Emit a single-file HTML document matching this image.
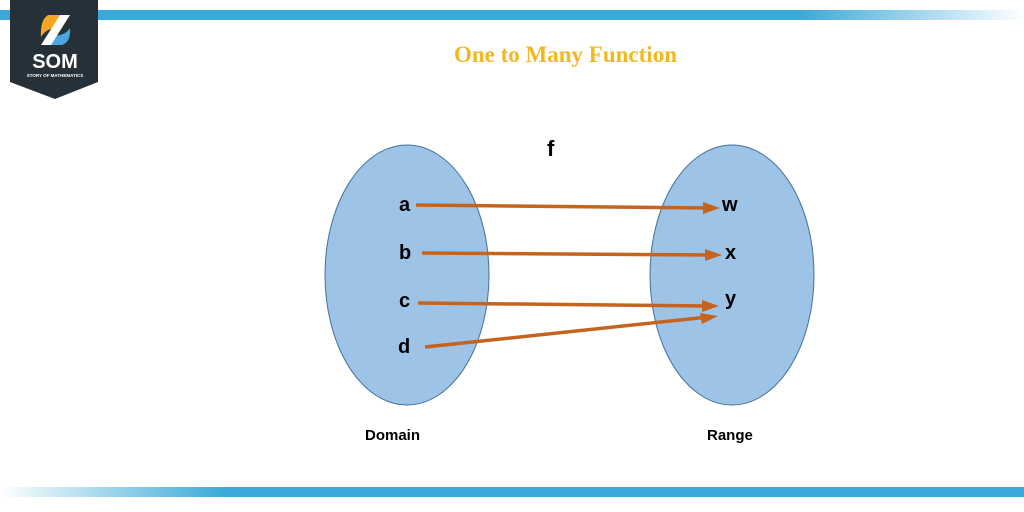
<!DOCTYPE html>
<html><head><style>
body{margin:0;width:1024px;height:512px;background:#fff;position:relative;overflow:hidden;font-family:"Liberation Sans",sans-serif}
.t{position:absolute;font-weight:bold}
</style></head><body>
<svg width="1024" height="512" style="position:absolute;left:0;top:0">
<defs>
<linearGradient id="g1" x1="0" x2="1"><stop offset="0.78" stop-color="#3aa8d8"/><stop offset="1" stop-color="#3aa8d8" stop-opacity="0"/></linearGradient>
<linearGradient id="g2" x1="0" x2="1"><stop offset="0" stop-color="#3aa8d8" stop-opacity="0"/><stop offset="0.22" stop-color="#3aa8d8"/></linearGradient>
</defs>
<rect x="0" y="10" width="1024" height="10" fill="url(#g1)"/>
<rect x="0" y="487" width="1024" height="10" fill="url(#g2)"/>
<path d="M10,0 H98 V82 L55,99 L10,82 Z" fill="#253039"/>
<path d="M48,15 H68 L60,27 Q46,28 41,37 Q40,20 48,15 Z" fill="#f5a623"/>
<path d="M70,28 Q71,42 62,45 H46 L54,36 Q66,35 70,28 Z" fill="#4aa8df"/>
<path d="M60,15 H70 L51,45 H41 Z" fill="#fff"/>
<text x="55" y="68" text-anchor="middle" fill="#fff" font-family="Liberation Sans" font-weight="bold" font-size="20">SOM</text>
<text x="55" y="77" text-anchor="middle" fill="#fff" font-family="Liberation Sans" font-weight="bold" font-size="4.5">STORY OF MATHEMATICS</text>
<ellipse cx="407" cy="275" rx="82" ry="130" fill="#9dc3e6" stroke="#41719c" stroke-width="1"/>
<ellipse cx="732" cy="275" rx="82" ry="130" fill="#9dc3e6" stroke="#41719c" stroke-width="1"/>
<g stroke="#c5641e" stroke-width="3.5" fill="none">
<line x1="416" y1="205" x2="710" y2="208"/>
<line x1="422" y1="253" x2="712" y2="255"/>
<line x1="418" y1="303" x2="709" y2="306"/>
<line x1="425" y1="347" x2="708" y2="317"/>
</g>
<g fill="#c5641e">
<path d="M720,208 L703,202 L703,214Z"/>
<path d="M722,255 L705,249 L705,261Z"/>
<path d="M719,306 L702,300 L702,312Z"/>
<path d="M718,316 L700,313 L702,324Z"/>
</g>
</svg>
<div class="t" style="left:0;width:1131px;top:42px;text-align:center;font-family:'Liberation Serif',serif;font-size:23px;color:#f2b823">One to Many Function</div>
<div class="t" style="left:547px;top:136px;font-size:22px">f</div>
<div class="t" style="left:399px;top:194px;font-size:20px">a</div>
<div class="t" style="left:399px;top:242px;font-size:20px">b</div>
<div class="t" style="left:399px;top:290px;font-size:20px">c</div>
<div class="t" style="left:398px;top:336px;font-size:20px">d</div>
<div class="t" style="left:722px;top:194px;font-size:20px">w</div>
<div class="t" style="left:725px;top:242px;font-size:20px">x</div>
<div class="t" style="left:725px;top:288px;font-size:20px">y</div>
<div class="t" style="left:365px;top:427px;font-size:15px">Domain</div>
<div class="t" style="left:707px;top:427px;font-size:15px">Range</div>
</body></html>
